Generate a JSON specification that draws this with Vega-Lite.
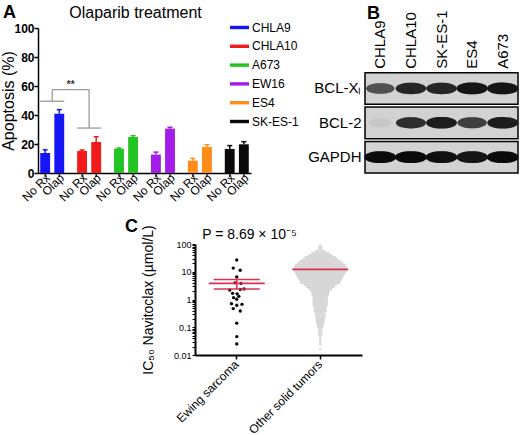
{
  "$schema": "https://vega.github.io/schema/vega-lite/v6.json",
  "padding": {"left": 0, "top": 3, "right": 0, "bottom": 0},
  "config": {
    "font": "Liberation Sans",
    "view": {"stroke": null},
    "axis": {"grid": false, "labelFont": "Liberation Sans", "titleFont": "Liberation Sans", "labelColor": "black", "titleColor": "black", "domainColor": "black", "tickColor": "black", "titleFontWeight": "normal"},
    "title": {"font": "Liberation Sans", "color": "black", "fontWeight": "normal"},
    "legend": {"labelFont": "Liberation Sans", "labelColor": "black"}
  },
  "title": {"text": "A", "anchor": "start", "frame": "bounds", "fontSize": 18, "fontWeight": "bold", "offset": -17, "dx": 2},
  "datasets": {
    "apop": [
      {"line": "CHLA9", "trt": "No Rx", "mean": 13.8, "upper": 16.0},
      {"line": "CHLA9", "trt": "Olap", "mean": 40.9, "upper": 43.7},
      {"line": "CHLA10", "trt": "No Rx", "mean": 15.2, "upper": 15.9},
      {"line": "CHLA10", "trt": "Olap", "mean": 21.4, "upper": 25.0},
      {"line": "A673", "trt": "No Rx", "mean": 16.8, "upper": 17.3},
      {"line": "A673", "trt": "Olap", "mean": 24.8, "upper": 25.7},
      {"line": "EW16", "trt": "No Rx", "mean": 12.7, "upper": 14.4},
      {"line": "EW16", "trt": "Olap", "mean": 30.6, "upper": 31.5},
      {"line": "ES4", "trt": "No Rx", "mean": 8.5, "upper": 10.1},
      {"line": "ES4", "trt": "Olap", "mean": 17.9, "upper": 19.5},
      {"line": "SK-ES-1", "trt": "No Rx", "mean": 16.6, "upper": 18.9},
      {"line": "SK-ES-1", "trt": "Olap", "mean": 19.8, "upper": 21.6}
    ],
    "brk_h": [
      {"line": "CHLA9", "y": 49.5},
      {"line": "CHLA10", "y": 31}
    ],
    "brk_v": [
      {"line": "CHLA9", "lo": 49.5, "hi": 57.5},
      {"line": "CHLA10", "lo": 31, "hi": 57.5}
    ],
    "brk_top": [
      {"line": "CHLA9", "to": "CHLA10", "y": 57.5, "label": "**"}
    ],
    "blotrows": [
      {"protein": "BCL-Xₗ"},
      {"protein": "BCL-2"},
      {"protein": "GAPDH"}
    ],
    "blot": [
      {"protein": "BCL-Xₗ", "lane": "CHLA9", "level": 0.6},
      {"protein": "BCL-Xₗ", "lane": "CHLA10", "level": 0.85},
      {"protein": "BCL-Xₗ", "lane": "SK-ES-1", "level": 0.85},
      {"protein": "BCL-Xₗ", "lane": "ES4", "level": 0.95},
      {"protein": "BCL-Xₗ", "lane": "A673", "level": 0.95},
      {"protein": "BCL-2", "lane": "CHLA9", "level": 0.03},
      {"protein": "BCL-2", "lane": "CHLA10", "level": 0.8},
      {"protein": "BCL-2", "lane": "SK-ES-1", "level": 0.9},
      {"protein": "BCL-2", "lane": "ES4", "level": 0.7},
      {"protein": "BCL-2", "lane": "A673", "level": 0.9},
      {"protein": "GAPDH", "lane": "CHLA9", "level": 1.0},
      {"protein": "GAPDH", "lane": "CHLA10", "level": 1.0},
      {"protein": "GAPDH", "lane": "SK-ES-1", "level": 0.98},
      {"protein": "GAPDH", "lane": "ES4", "level": 0.95},
      {"protein": "GAPDH", "lane": "A673", "level": 1.0}
    ],
    "ewing": [
      {"group": "Ewing sarcoma", "ic50": 26.5, "col": 0},
      {"group": "Ewing sarcoma", "ic50": 13.6, "col": -1},
      {"group": "Ewing sarcoma", "ic50": 11.3, "col": 1},
      {"group": "Ewing sarcoma", "ic50": 6.5, "col": 0},
      {"group": "Ewing sarcoma", "ic50": 4.0, "col": -0.5},
      {"group": "Ewing sarcoma", "ic50": 3.8, "col": 1.2},
      {"group": "Ewing sarcoma", "ic50": 2.2, "col": -2},
      {"group": "Ewing sarcoma", "ic50": 2.3, "col": 1},
      {"group": "Ewing sarcoma", "ic50": 2.4, "col": 2.1},
      {"group": "Ewing sarcoma", "ic50": 1.67, "col": -1.2},
      {"group": "Ewing sarcoma", "ic50": 1.6, "col": 0.1},
      {"group": "Ewing sarcoma", "ic50": 1.3, "col": 0.6},
      {"group": "Ewing sarcoma", "ic50": 1.16, "col": -0.9},
      {"group": "Ewing sarcoma", "ic50": 1.02, "col": 0},
      {"group": "Ewing sarcoma", "ic50": 0.71, "col": -1.5},
      {"group": "Ewing sarcoma", "ic50": 0.67, "col": 1.5},
      {"group": "Ewing sarcoma", "ic50": 0.62, "col": 0},
      {"group": "Ewing sarcoma", "ic50": 0.47, "col": -1},
      {"group": "Ewing sarcoma", "ic50": 0.385, "col": 1},
      {"group": "Ewing sarcoma", "ic50": 0.14, "col": 0},
      {"group": "Ewing sarcoma", "ic50": 0.046, "col": 0},
      {"group": "Ewing sarcoma", "ic50": 0.025, "col": 0}
    ],
    "swarm": [
      {"group": "Other solid tumors", "ic50": 92, "n": 1},
      {"group": "Other solid tumors", "ic50": 78, "n": 2},
      {"group": "Other solid tumors", "ic50": 66, "n": 2},
      {"group": "Other solid tumors", "ic50": 56, "n": 5},
      {"group": "Other solid tumors", "ic50": 47.5, "n": 8},
      {"group": "Other solid tumors", "ic50": 40.2, "n": 11},
      {"group": "Other solid tumors", "ic50": 34.1, "n": 14},
      {"group": "Other solid tumors", "ic50": 28.8, "n": 16},
      {"group": "Other solid tumors", "ic50": 24.4, "n": 19},
      {"group": "Other solid tumors", "ic50": 20.7, "n": 21},
      {"group": "Other solid tumors", "ic50": 17.5, "n": 23},
      {"group": "Other solid tumors", "ic50": 14.8, "n": 24},
      {"group": "Other solid tumors", "ic50": 12.6, "n": 25},
      {"group": "Other solid tumors", "ic50": 10.6, "n": 24},
      {"group": "Other solid tumors", "ic50": 9.02, "n": 23},
      {"group": "Other solid tumors", "ic50": 7.64, "n": 22},
      {"group": "Other solid tumors", "ic50": 6.47, "n": 21},
      {"group": "Other solid tumors", "ic50": 5.48, "n": 20},
      {"group": "Other solid tumors", "ic50": 4.64, "n": 19},
      {"group": "Other solid tumors", "ic50": 3.94, "n": 18},
      {"group": "Other solid tumors", "ic50": 3.33, "n": 15},
      {"group": "Other solid tumors", "ic50": 2.82, "n": 13},
      {"group": "Other solid tumors", "ic50": 2.39, "n": 11},
      {"group": "Other solid tumors", "ic50": 2.02, "n": 9},
      {"group": "Other solid tumors", "ic50": 1.71, "n": 8},
      {"group": "Other solid tumors", "ic50": 1.45, "n": 8},
      {"group": "Other solid tumors", "ic50": 1.23, "n": 7},
      {"group": "Other solid tumors", "ic50": 1.04, "n": 7},
      {"group": "Other solid tumors", "ic50": 0.883, "n": 7},
      {"group": "Other solid tumors", "ic50": 0.748, "n": 7},
      {"group": "Other solid tumors", "ic50": 0.634, "n": 7},
      {"group": "Other solid tumors", "ic50": 0.537, "n": 6},
      {"group": "Other solid tumors", "ic50": 0.455, "n": 6},
      {"group": "Other solid tumors", "ic50": 0.385, "n": 6},
      {"group": "Other solid tumors", "ic50": 0.326, "n": 5},
      {"group": "Other solid tumors", "ic50": 0.276, "n": 5},
      {"group": "Other solid tumors", "ic50": 0.234, "n": 5},
      {"group": "Other solid tumors", "ic50": 0.198, "n": 4},
      {"group": "Other solid tumors", "ic50": 0.168, "n": 4},
      {"group": "Other solid tumors", "ic50": 0.142, "n": 4},
      {"group": "Other solid tumors", "ic50": 0.120, "n": 3},
      {"group": "Other solid tumors", "ic50": 0.102, "n": 3},
      {"group": "Other solid tumors", "ic50": 0.0865, "n": 2},
      {"group": "Other solid tumors", "ic50": 0.0733, "n": 2},
      {"group": "Other solid tumors", "ic50": 0.0621, "n": 2},
      {"group": "Other solid tumors", "ic50": 0.0526, "n": 2},
      {"group": "Other solid tumors", "ic50": 0.0446, "n": 1},
      {"group": "Other solid tumors", "ic50": 0.0378, "n": 1},
      {"group": "Other solid tumors", "ic50": 0.032, "n": 1},
      {"group": "Other solid tumors", "ic50": 0.0271, "n": 1},
      {"group": "Other solid tumors", "ic50": 0.0229, "n": 1},
      {"group": "Other solid tumors", "ic50": 0.0164, "n": 1}
    ],
    "means": [
      {"group": "Ewing sarcoma", "ic50": 3.8},
      {"group": "Other solid tumors", "ic50": 12.2}
    ],
    "sem": [
      {"group": "Ewing sarcoma", "lo": 2.4, "hi": 5.3}
    ]
  },
  "spacing": 14,
  "resolve": {
    "scale": {"x": "independent", "y": "independent", "color": "independent", "size": "independent", "xOffset": "independent"},
    "legend": {"color": "independent", "size": "independent"}
  },
  "vconcat": [
    {
      "spacing": 8,
      "resolve": {
        "scale": {"x": "independent", "y": "independent", "color": "independent", "size": "independent", "xOffset": "independent"},
        "legend": {"color": "independent", "size": "independent"}
      },
      "hconcat": [
        {
          "width": 213,
          "height": 145,
          "title": {"text": "Olaparib treatment", "fontSize": 16, "dx": -9, "offset": -2.5},
          "encoding": {
            "y": {"type": "quantitative", "title": "Apoptosis (%)",
                  "scale": {"domain": [0, 100], "nice": false},
                  "axis": {"values": [0, 20, 40, 60, 80, 100], "format": "d", "labelOverlap": false, "labelBound": false, "labelFlush": false, "labelSeparation": 0, "labelFontSize": 12, "labelFontWeight": "bold", "titleFontSize": 16, "tickSize": 4, "domainWidth": 1.5, "tickWidth": 1.5, "labelPadding": 0, "titlePadding": -3}}
          },
          "layer": [
            {
              "data": {"name": "apop"},
              "mark": {"type": "bar"},
              "encoding": {
                "x": {"field": "line", "type": "nominal", "sort": null,
                      "scale": {"domain": ["CHLA9", "CHLA10", "A673", "EW16", "ES4", "SK-ES-1"], "paddingInner": 0.35, "paddingOuter": 0.06},
                      "axis": {"labels": false, "ticks": false, "title": null, "domainWidth": 1.5}},
                "xOffset": {"field": "trt", "type": "nominal", "scale": {"domain": ["No Rx", "Olap"], "paddingInner": 0.3}},
                "y": {"field": "mean"},
                "color": {"field": "line", "type": "nominal",
                          "scale": {"domain": ["CHLA9", "CHLA10", "A673", "EW16", "ES4", "SK-ES-1"], "range": ["#1515f5", "#f21b1b", "#22c422", "#a31ce8", "#ff8c19", "#0a0a0a"]},
                          "legend": {"orient": "none", "legendX": 192, "legendY": -10, "title": null, "symbolType": "M-1,-0.18H1V0.18H-1Z", "symbolSize": 361, "symbolStrokeWidth": 0, "symbolOpacity": 1, "labelFontSize": 12, "rowPadding": 2.8, "labelOffset": 3}}
              }
            },
            {
              "data": {"name": "apop"},
              "mark": {"type": "rule", "strokeWidth": 1.5},
              "encoding": {
                "x": {"field": "line", "type": "nominal"},
                "xOffset": {"field": "trt", "type": "nominal"},
                "y": {"field": "mean"},
                "y2": {"field": "upper"},
                "color": {"field": "line", "type": "nominal"}
              }
            },
            {
              "data": {"name": "apop"},
              "mark": {"type": "tick", "thickness": 1.5, "size": 5, "opacity": 1},
              "encoding": {
                "x": {"field": "line", "type": "nominal"},
                "xOffset": {"field": "trt", "type": "nominal"},
                "y": {"field": "upper"},
                "color": {"field": "line", "type": "nominal"}
              }
            },
            {
              "data": {"name": "apop"},
              "mark": {"type": "tick", "orient": "vertical", "thickness": 1.2, "size": 4, "yOffset": 2, "color": "black", "opacity": 1},
              "encoding": {
                "x": {"field": "line", "type": "nominal"},
                "xOffset": {"field": "trt", "type": "nominal"},
                "y": {"datum": 0}
              }
            },
            {
              "data": {"name": "apop"},
              "mark": {"type": "text", "angle": -45, "align": "right", "baseline": "middle", "fontSize": 12, "color": "black", "dy": 4},
              "encoding": {
                "x": {"field": "line", "type": "nominal"},
                "xOffset": {"field": "trt", "type": "nominal"},
                "y": {"datum": 0},
                "text": {"field": "trt"}
              }
            },
            {
              "data": {"name": "brk_h"},
              "mark": {"type": "rule", "color": "#9a9a9a", "strokeWidth": 1.3},
              "encoding": {
                "x": {"field": "line", "type": "nominal", "bandPosition": 0},
                "x2": {"field": "line", "bandPosition": 1},
                "y": {"field": "y"}
              }
            },
            {
              "data": {"name": "brk_v"},
              "mark": {"type": "rule", "color": "#9a9a9a", "strokeWidth": 1.3},
              "encoding": {
                "x": {"field": "line", "type": "nominal", "bandPosition": 0.5},
                "y": {"field": "lo"},
                "y2": {"field": "hi"}
              }
            },
            {
              "data": {"name": "brk_top"},
              "mark": {"type": "rule", "color": "#9a9a9a", "strokeWidth": 1.3},
              "encoding": {
                "x": {"field": "line", "type": "nominal", "bandPosition": 0.5},
                "x2": {"field": "to", "bandPosition": 0.5},
                "y": {"field": "y"}
              }
            },
            {
              "data": {"name": "brk_top"},
              "mark": {"type": "text", "fontSize": 10, "fontWeight": "bold", "baseline": "bottom", "color": "#333"},
              "encoding": {
                "x": {"field": "line", "type": "nominal", "bandPosition": 1.27},
                "y": {"field": "y"},
                "text": {"field": "label"}
              }
            }
          ]
        },
        {
          "width": 153,
          "height": 145,
          "title": {"text": "B", "anchor": "start", "frame": "group", "fontSize": 18, "fontWeight": "bold", "dx": 2, "offset": -12},
          "layer": [
            {
              "data": {"name": "blotrows"},
              "mark": {"type": "rect", "fill": "#d2d2d2", "stroke": "black", "strokeWidth": 1.5},
              "encoding": {
                "y": {"field": "protein", "type": "nominal", "sort": null,
                      "scale": {"domain": ["BCL-Xₗ", "BCL-2", "GAPDH"], "paddingInner": 0.08, "paddingOuter": 0.65, "align": 1},
                      "axis": {"title": null, "ticks": false, "domain": false, "labelFontSize": 15, "labelPadding": 4}}
              }
            },
            {
              "data": {"name": "blot"},
              "mark": {"type": "point", "filled": true, "opacity": 0.35, "shape": "M-1,0C-1,-0.5,1,-0.5,1,0C1,0.5,-1,0.5,-1,0Z"},
              "encoding": {
                "x": {"field": "lane", "type": "nominal", "sort": null,
                      "scale": {"domain": ["CHLA9", "CHLA10", "SK-ES-1", "ES4", "A673"], "paddingInner": 0, "paddingOuter": 0.12},
                      "axis": null},
                "y": {"field": "protein", "type": "nominal"},
                "color": {"field": "level", "type": "quantitative", "scale": {"domain": [0, 1], "range": ["#cdcdcd", "#0a0a0a"]}, "legend": null},
                "size": {"field": "level", "type": "quantitative", "scale": {"domain": [0, 1], "range": [500, 1000]}, "legend": null}
              }
            },
            {
              "data": {"name": "blot"},
              "mark": {"type": "point", "filled": true, "opacity": 1, "shape": "M-1,0C-1,-0.5,1,-0.5,1,0C1,0.5,-1,0.5,-1,0Z"},
              "encoding": {
                "x": {"field": "lane", "type": "nominal"},
                "y": {"field": "protein", "type": "nominal"},
                "color": {"field": "level", "type": "quantitative", "legend": null},
                "size": {"field": "level", "type": "quantitative", "legend": null}
              }
            },
            {
              "data": {"name": "blot"},
              "transform": [{"filter": "datum.protein == 'BCL-Xₗ'"}],
              "mark": {"type": "text", "angle": -90, "align": "left", "baseline": "middle", "fontSize": 15, "color": "black"},
              "encoding": {
                "x": {"field": "lane", "type": "nominal"},
                "y": {"field": "protein", "type": "nominal", "bandPosition": -0.12},
                "text": {"field": "lane"}
              }
            }
          ]
        }
      ]
    },
    {
      "spacing": 0,
      "resolve": {
        "scale": {"x": "independent", "y": "independent", "xOffset": "independent", "size": "independent"}
      },
      "hconcat": [
        {
          "width": 103,
          "height": 111,
          "title": {"text": "C", "anchor": "end", "frame": "group", "fontSize": 18, "fontWeight": "bold", "dx": -3, "offset": 8},
          "data": {"values": [{}]},
          "mark": {"type": "point", "opacity": 0},
          "encoding": {}
        },
        {
          "width": 167,
          "height": 111,
          "title": {"text": "P = 8.69 × 10⁻⁵", "fontSize": 14, "dx": -29, "offset": -17},
          "layer": [
            {
              "data": {"name": "swarm"},
              "mark": {"type": "tick", "color": "#8e8e8e", "thickness": 0.9, "orient": "horizontal"},
              "encoding": {
                "x": {"field": "group", "type": "nominal", "sort": null,
                      "scale": {"domain": ["Ewing sarcoma", "Other solid tumors"], "paddingInner": 0, "paddingOuter": 0},
                      "axis": {"title": null, "labelAngle": -45, "labelAlign": "right", "labelBaseline": "middle", "labelFontSize": 12, "domainWidth": 2, "tickWidth": 1.5, "tickSize": 4, "labelPadding": 3}},
                "y": {"field": "ic50", "type": "quantitative", "title": "IC₅₀ Navitoclax (µmol/L)",
                      "scale": {"type": "log", "domain": [0.01, 100]},
                      "axis": {"values": [0.01, 0.02, 0.03, 0.04, 0.05, 0.06, 0.07, 0.08, 0.09, 0.1, 0.2, 0.3, 0.4, 0.5, 0.6, 0.7, 0.8, 0.9, 1, 2, 3, 4, 5, 6, 7, 8, 9, 10, 20, 30, 40, 50, 60, 70, 80, 90, 100],
                               "labelExpr": "indexof([0.01, 0.1, 1, 10, 100], datum.value) >= 0 ? format(datum.value, '~g') : ''",
                               "labelOverlap": false, "labelFontSize": 9, "tickSize": 3, "tickWidth": 1, "domainWidth": 2, "labelPadding": 1, "titleFontSize": 14, "titlePadding": 18}},
                "size": {"field": "n", "type": "quantitative", "scale": {"domain": [0, 25], "range": [0, 55]}, "legend": null}
              }
            },
            {
              "data": {"name": "ewing"},
              "mark": {"type": "point", "filled": true, "color": "black", "size": 11, "opacity": 1},
              "encoding": {
                "x": {"field": "group", "type": "nominal"},
                "xOffset": {"field": "col", "type": "quantitative", "scale": {"domain": [-3, 3], "range": [31.25, 52.25]}},
                "y": {"field": "ic50", "type": "quantitative"}
              }
            },
            {
              "data": {"name": "means"},
              "mark": {"type": "tick", "color": "#dc2f4f", "thickness": 1.6, "size": 56, "orient": "horizontal", "opacity": 1},
              "encoding": {
                "x": {"field": "group", "type": "nominal"},
                "y": {"field": "ic50", "type": "quantitative"}
              }
            },
            {
              "data": {"name": "sem"},
              "mark": {"type": "rule", "color": "#dc2f4f", "strokeWidth": 1.5},
              "encoding": {
                "x": {"field": "group", "type": "nominal"},
                "y": {"field": "lo", "type": "quantitative"},
                "y2": {"field": "hi"}
              }
            },
            {
              "data": {"name": "sem"},
              "mark": {"type": "tick", "color": "#dc2f4f", "thickness": 1.5, "size": 46, "orient": "horizontal", "opacity": 1},
              "encoding": {
                "x": {"field": "group", "type": "nominal"},
                "y": {"field": "lo", "type": "quantitative"}
              }
            },
            {
              "data": {"name": "sem"},
              "mark": {"type": "tick", "color": "#dc2f4f", "thickness": 1.5, "size": 46, "orient": "horizontal", "opacity": 1},
              "encoding": {
                "x": {"field": "group", "type": "nominal"},
                "y": {"field": "hi", "type": "quantitative"}
              }
            }
          ]
        }
      ]
    }
  ]
}
